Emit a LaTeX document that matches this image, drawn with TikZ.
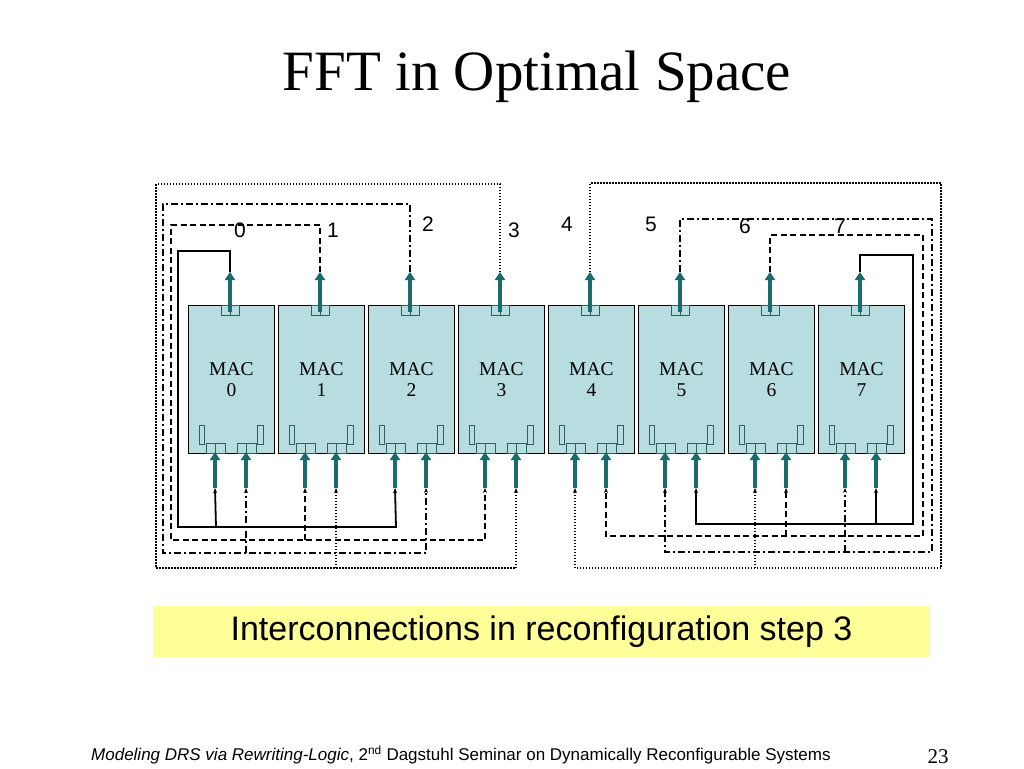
\documentclass[tikz,border=0pt]{standalone}
\usepackage{fontspec}
\setmainfont{Liberation Serif}
\newfontfamily\arial{Liberation Sans}
\usetikzlibrary{arrows.meta}
\definecolor{macfill}{HTML}{B7DDE0}
\definecolor{tealarr}{HTML}{1A6B6B}
\definecolor{portc}{HTML}{2F5F5F}
\definecolor{yel}{HTML}{FFFF99}
\begin{document}
\begin{tikzpicture}[x=1pt,y=-1pt,
  mac/.style={draw=black,fill=macfill,minimum width=86pt,minimum height=148pt,inner sep=0pt,
    font=\fontsize{19.5}{21}\selectfont,align=center,line width=0.9pt},
  port/.style={draw=portc,line width=0.9pt},
  fat/.style={draw=tealarr,line width=4pt,-{Triangle[length=8pt,width=10pt]}},
  wire/.style={line width=1.5pt,-{Stealth[length=5pt,width=4pt]}},
  wsolid/.style={wire,line width=1.8pt},
  wdash/.style={wire,dash pattern=on 6pt off 3.5pt},
  wdot/.style={wire,dash pattern=on 1.5pt off 1.5pt},
  wdd/.style={wire,dash pattern=on 7pt off 3pt on 2pt off 3pt},
  lab/.style={font=\arial\fontsize{21}{23}\selectfont}]
\useasboundingbox (0,0) rectangle (1024,768);
\node[font=\fontsize{57}{62}\selectfont] (title) at (537,77) {FFT in Optimal Space};
\foreach \k in {0,...,7}{
  \pgfmathsetmacro{\L}{188+90*\k}
  \node[mac,anchor=north west] (m\k) at (\L,305) {MAC\\[0pt]\k};
  \draw[port] (\L+33,305) rectangle (\L+51,315) (\L+42,305)--(\L+42,315);
  \draw[port] (\L+18,443) rectangle (\L+37,453) (\L+27,443)--(\L+27,453);
  \draw[port] (\L+49,443) rectangle (\L+68,453) (\L+58,443)--(\L+58,453);
  \draw[port] (\L+11,425) rectangle (\L+16,444);
  \draw[port] (\L+69,425) rectangle (\L+75,444);
  \coordinate (o\k) at (\L+42,272);
  \coordinate (a\k) at (\L+27,488);
  \coordinate (b\k) at (\L+58,488);
  \draw[fat] (\L+42,312) -- (o\k);
  \draw[fat] (\L+27,488) -- (\L+27,452);
  \draw[fat] (\L+58,488) -- (\L+58,452);
}
\foreach \k/\x/\y in {0/240/230,1/333/230,2/428/224,3/514/230,4/567/224,5/651/224,6/745/226,7/840/226}
  \node[lab] (l\k) at (\x,\y) {\k};
\draw[wsolid] (o0) -- (230,251) -- (178,251) -- (178,527) -- (396,527) -- (a2);
\draw[wsolid] (216,527) -- (a0);
\draw[wdash] (o1) -- (320,225) -- (171,225) -- (171,540) -- (485,540) -- (a3);
\draw[wdash] (305,540) -- (a1);
\draw[wdd] (o2) -- (410,204) -- (163,204) -- (163,553) -- (426,553) -- (b2);
\draw[wdd] (246,553) -- (b0);
\draw[wdot] (o3) -- (500,184) -- (156,184) -- (156,568) -- (516,568) -- (b3);
\draw[wdot] (336,568) -- (b1);
\draw[wdot] (o4) -- (590,183) -- (941,183) -- (941,568) -- (575,568) -- (a4);
\draw[wdot] (755,568) -- (a6);
\draw[wdd] (o5) -- (680,219) -- (932,219) -- (932,552) -- (665,552) -- (a5);
\draw[wdd] (845,552) -- (a7);
\draw[wdash] (o6) -- (770,235) -- (923,235) -- (923,536) -- (606,536) -- (b4);
\draw[wdash] (786,536) -- (b6);
\draw[wsolid] (o7) -- (860,255) -- (913,255) -- (913,524) -- (696,524) -- (b5);
\draw[wsolid] (876,524) -- (b7);
\node[fill=yel,minimum width=777pt,minimum height=51pt,inner sep=0pt,
  font=\arial\fontsize{34}{38}\selectfont] (cap) at (541.5,631.5) {Interconnections in reconfiguration step 3};
\node[anchor=west,font=\arial\fontsize{17}{20}\selectfont,inner sep=0pt] (foot) at (91,755)
  {\textit{Modeling DRS via Rewriting-Logic}, 2\textsuperscript{nd} Dagstuhl Seminar on Dynamically Reconfigurable Systems};
\node[font=\fontsize{21}{23}\selectfont,inner sep=0pt] (pg) at (938,757) {23};
\end{tikzpicture}
\end{document}
